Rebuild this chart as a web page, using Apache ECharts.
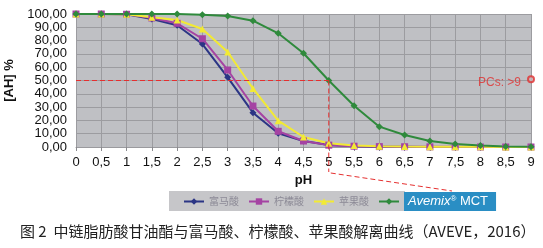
<!DOCTYPE html>
<html><head><meta charset="utf-8">
<script src="https://cdn.jsdelivr.net/npm/echarts@6/dist/echarts.min.js"></script>
<style>html,body{margin:0;padding:0;background:#fff}#c{width:543px;height:248px}</style>
</head><body><div id="c"></div>
<script>
var ph = [0,0.5,1,1.5,2,2.5,3,3.5,4,4.5,5,5.5,6,6.5,7,7.5,8,8.5,9];
var fumaric = [100,100,99.8,96.2,91.5,77.4,52.4,25.8,10.3,4.5,1.5,0.5,0.2,0.1,0,0,0,0,0];
var citric  = [100,100,99.8,97,93,81.4,57.9,30.8,11.8,4.5,1.4,0.6,0.3,0.2,0.1,0.1,0,0,0];
var malic   = [100,100,99.8,97.5,95.5,88.7,71.4,44,19.8,7.5,2.8,1.2,0.5,0.3,0.2,0.1,0.1,0,0];
var avemix  = [100,100,100,100,100,99.5,98.5,95,85.5,70.5,50,31,15.3,9,4.5,2.3,1.2,0.3,0.1];
var names = ['富马酸','柠檬酸','苹果酸','Avemix® MCT'];
var pcsPoint = [9, 51];
var pcsLabel = 'PCs: >9';
var refPoint = [5, 50];
var caption = '图 2  中链脂肪酸甘油酯与富马酸、柠檬酸、苹果酸解离曲线（AVEVE，2016）';

function pairs(v){ return ph.map(function(x,i){return [x,v[i]];}); }
function comma(v, d){ return v.toFixed(d).replace('.', ','); }

var chart = echarts.init(document.getElementById('c'), null, {renderer:'canvas'});
var baseFont = 'Liberation Sans, Arial, sans-serif';
function mk(name, data, color, symbol, size){
  return {name:name, type:'line', data:pairs(data), symbol:symbol, symbolSize:size,
    lineStyle:{color:color, width:2}, itemStyle:{color:color}, animation:false};
}
chart.setOption({
  animation:false,
  grid:{left:76, right:12, top:14, bottom:101, show:true, backgroundColor:'#bfc0c4', borderWidth:0, outerBoundsMode:'none', containLabel:false},
  xAxis:{type:'value', min:0, max:9, interval:0.5, name:'pH', nameLocation:'middle', nameGap:26,
    nameTextStyle:{fontFamily:baseFont, fontWeight:'bold', fontSize:13, color:'#111'},
    axisLine:{show:true, lineStyle:{color:'#9a9a9e'}}, axisTick:{show:true, length:4, lineStyle:{color:'#8a8a8e'}},
    splitLine:{show:true, lineStyle:{color:'#9c9ca0', width:1}},
    axisLabel:{formatter:function(v){return String(v).replace('.',',');}, fontFamily:baseFont, fontSize:13, color:'#111', margin:9}},
  yAxis:{type:'value', min:0, max:100, interval:10, name:'[AH] %', nameLocation:'middle', nameGap:46, nameRotate:90,
    nameTextStyle:{fontFamily:baseFont, fontWeight:'bold', fontSize:13, color:'#111'},
    axisLine:{show:false}, axisTick:{show:false},
    splitLine:{show:true, lineStyle:{color:'#9c9ca0', width:1}},
    axisLabel:{formatter:function(v){return comma(v,2);}, fontFamily:baseFont, fontSize:13, color:'#111', margin:9}},
  legend:{left:183, top:192, width:355, padding:0, itemWidth:20, itemHeight:8, itemGap:9,
    textStyle:{fontFamily:'Noto Sans CJK SC', fontSize:10, color:'#8c8a96',
      rich:{i:{fontFamily:baseFont, fontStyle:'italic', fontSize:13, color:'#fff'},
            r:{fontFamily:baseFont, fontSize:8, color:'#fff', verticalAlign:'top', padding:[0,0,4,0]},
            m:{fontFamily:baseFont, fontSize:13, color:'#fff'}}},
    formatter:function(n){ return n === names[3] ? '{i|Avemix}{r|®}{m| MCT}' : n; },
    data:[names[0], names[1], names[2],
      {name:names[3], textStyle:{color:'#fff', backgroundColor:'#2a8ec4', padding:[3,8,3,4], fontSize:13}}]},
  series:[
    mk(names[0], fumaric, '#2b3585', 'diamond', 7),
    mk(names[1], citric, '#a543a3', 'rect', 7),
    mk(names[2], malic, '#f2ea34', 'triangle', 7),
    mk(names[3], avemix, '#2f8a3c', 'diamond', 7),
    {type:'scatter', name:'pcs', data:[pcsPoint], symbol:'circle', symbolSize:6,
      itemStyle:{color:'#c8b8bc', borderColor:'#e03030', borderWidth:2},
      label:{show:true, position:'left', distance:6, formatter:pcsLabel, color:'#e03030', fontFamily:baseFont, fontSize:12, offset:[0,4]},
      z:5, animation:false}
  ]
});
var a = chart.convertToPixel({gridIndex:0}, [0, refPoint[1]]);
var b = chart.convertToPixel({gridIndex:0}, refPoint);
var dash = {stroke:'#e53030', lineWidth:1, lineDash:[5,3]};
chart.setOption({graphic:[
  {type:'rect', shape:{x:169, y:191, width:236, height:20}, style:{fill:'#c6c6c9'}, z:-1},
  {type:'line', shape:{x1:a[0], y1:a[1], x2:b[0], y2:b[1]}, style:dash, z:10},
  {type:'line', shape:{x1:b[0], y1:b[1], x2:b[0], y2:172}, style:dash, z:10},
  {type:'line', shape:{x1:b[0]+2, y1:173, x2:452, y2:191}, style:dash, z:10},
  {type:'text', left:20, top:224, style:{text:caption, font:'15px "Noto Sans CJK SC"', fill:'#222'}}
]});
</script></body></html>
